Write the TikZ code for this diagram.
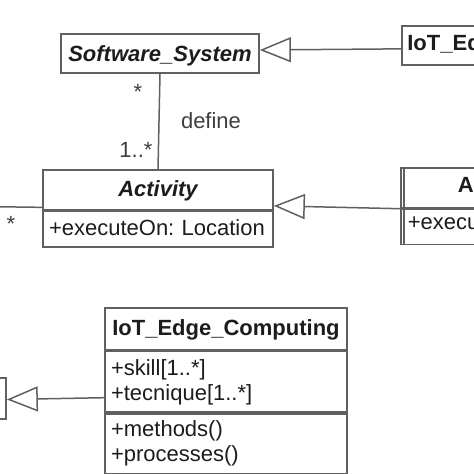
\documentclass[tikz,border=0pt]{standalone}
\usepackage{fontspec}
\setmainfont{Liberation Sans}
\frenchspacing
\usetikzlibrary{arrows.meta}
\definecolor{umlline}{RGB}{96,96,96}
\definecolor{umltext}{RGB}{28,28,28}
\tikzset{
  cls/.style={draw=umlline, line width=1.7pt, inner sep=0pt, text=umltext},
  clsname/.style={cls, font=\fontsize{22}{25}\selectfont\bfseries},
  clsabs/.style={cls, font=\fontsize{22}{25}\selectfont\bfseries\itshape},
  clspart/.style={cls, font=\fontsize{22}{25}\selectfont\frenchspacing, align=left, inner xsep=6pt},
  gen/.style={draw=umlline, line width=1.5pt, -{Triangle[open, length=31pt, width=25pt]}},
  assoc/.style={draw=umlline, line width=1.5pt},
  lbl/.style={font=\fontsize{22}{25}\selectfont, text=umltext!85, anchor=base, inner sep=0pt},
}
\begin{document}
\begin{tikzpicture}[x=1pt, y=-1pt]
  \useasboundingbox (0,0) rectangle (474,474);
  \clip (0,0) rectangle (474,474);
  % classes
  \node[clsabs, minimum width=198, text height=27pt, text depth=12pt] (sys) at (160,53.5) {Software\_System};
  \node[clsname, anchor=north west, text width=227pt, align=center, inner xsep=5.5pt, text height=25pt, text depth=14pt] (iotref) at (401,25) {IoT\_Edge\_Computing};
  \node[clsabs, minimum width=230, text height=26.5pt, text depth=13pt] (act) at (158,189.75) {Activity};
  \node[clspart, anchor=north, text width=218pt] (actattr) at (act.south) {\rule[-11pt]{0pt}{35.5pt}\mbox{+executeOn: Location}};
  \node[cls, anchor=north west, minimum width=230, minimum height=40] (acthd) at (400,167) {};
  \node[clsname, draw=none, anchor=base west] (acname) at (457,192.7) {Ac};
  \node[clspart, anchor=north west, text width=218pt, inner xsep=7pt] (acattr) at (acthd.south west) {\rule[-15pt]{0pt}{35pt}+execu};
  \draw[umlline, line width=1.7pt] ([xshift=4pt]acthd.north west) -- ([xshift=4pt]acattr.south west);
  \node[clsname, minimum width=242, text height=27.5pt, text depth=14pt] (iot) at (226,328.75) {IoT\_Edge\_Computing};
  \node[clspart, anchor=north, text width=230pt] (iotattr) at (iot.south) {\rule{0pt}{23.8pt}+skill[1..*]\\+tecnique[1..*]\rule[-12.2pt]{0pt}{12.2pt}};
  \node[clspart, anchor=north, text width=230pt] (iotops) at (iotattr.south) {\rule{0pt}{22.5pt}+methods()\\+processes()\rule[-12.5pt]{0pt}{12.5pt}};
  \node[cls, minimum width=40, minimum height=41] (basecls) at (-14,398.5) {};
  \coordinate (offleft) at (-20,206.5);
  % connectors
  \draw[gen] ([yshift=-3.5pt]iotref.west) -- ([yshift=3.5pt]sys.east);
  \draw[assoc] (sys.south) -- (act.north);
  \draw[gen] (acthd.south west) -- ([yshift=4.5pt]act.south east);
  \draw[assoc] ([yshift=3pt]act.south west) -- (offleft);
  \draw[gen] ([yshift=-16pt]iotattr.west) -- ([yshift=-1pt]basecls.east);
  % labels
  \node[lbl] (multsys) at (138,99) {*};
  \node[lbl] (define) at (211,128) {define};
  \node[lbl] (multact) at (136,157) {1..*};
  \node[lbl] (multleft) at (11,231) {*};
\end{tikzpicture}
\end{document}
